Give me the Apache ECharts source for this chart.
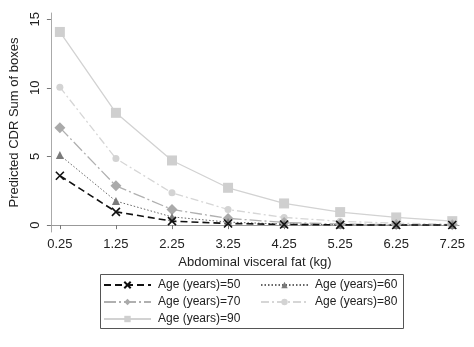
<!DOCTYPE html>
<html>
<head>
    <meta charset="utf-8">
    <title>CDR by visceral fat</title>
    <script src="https://cdn.jsdelivr.net/npm/echarts@6/dist/echarts.min.js"></script>
</head>
<body style="margin:0;background:#fff">

<div id="chart" style="width:474px;height:347px"></div>
<script type="text/javascript">
    // abdominal visceral fat (kg)
    var fatKg = [0.25, 1.25, 2.25, 3.25, 4.25, 5.25, 6.25, 7.25];
    var yTicks = [0, 5, 10, 15];
    var age50 = [3.6, 0.97, 0.29, 0.12, 0.05, 0.02, 0.01, 0.01];
    var age60 = [5.1, 1.75, 0.6, 0.22, 0.08, 0.03, 0.01, 0.01];
    var age70 = [7.1, 2.86, 1.14, 0.49, 0.2, 0.08, 0.04, 0.02];
    var age80 = [10.05, 4.85, 2.35, 1.14, 0.56, 0.28, 0.14, 0.07];
    var age90 = [14.07, 8.18, 4.71, 2.72, 1.58, 0.95, 0.56, 0.29];

    var chart = echarts.init(document.getElementById('chart'));
    var font = 'Liberation Sans, Arial, sans-serif';

    function pairs(vals) {
        return fatKg.map(function (x, i) { return [x, vals[i]]; });
    }

    function mkSeries(name, vals, color, lineColor, dash, width, symbol, size, extra) {
        var s = {
            name: name,
            type: 'line',
            data: pairs(vals),
            symbol: symbol,
            symbolSize: size,
            showAllSymbol: true,
            lineStyle: { color: lineColor, width: width, type: dash },
            itemStyle: { color: color },
            emphasis: { disabled: true },
            animation: false
        };
        if (extra) s.itemStyle = extra;
        return s;
    }

    var names = ['Age (years)=50', 'Age (years)=60', 'Age (years)=70', 'Age (years)=80', 'Age (years)=90'];

    // one legend per entry so the two columns line up like the original
    var legendPos = [[103, 279], [260, 279], [103, 296], [260, 296], [103, 313]];
    var legends = names.map(function (n, i) {
        return {
            data: [n],
            left: legendPos[i][0],
            top: legendPos[i][1],
            padding: 0,
            itemWidth: 47,
            itemHeight: 8,
            itemGap: 0,
            textStyle: { fontFamily: font, fontSize: 12, color: '#222', padding: [0, 0, 0, 2] },
            selectedMode: false
        };
    });

    var option = {
        backgroundColor: '#fff',
        textStyle: { fontFamily: font },
        grid: { left: 43, right: 15, top: 13, bottom: 115 },
        legend: legends,
        xAxis: {
            type: 'value',
            min: 0.09,
            max: 7.37,
            name: 'Abdominal visceral fat (kg)',
            nameLocation: 'middle',
            nameGap: 24,
            nameTextStyle: { fontSize: 13, color: '#222', fontFamily: font },
            axisLine: { lineStyle: { color: '#999', width: 1 } },
            axisTick: { customValues: fatKg, length: 4, lineStyle: { color: '#777' } },
            axisLabel: {
                customValues: fatKg,
                fontSize: 13, color: '#222', margin: 6,
                formatter: function (v) { return v.toFixed(2); }
            },
            splitLine: { show: false }
        },
        yAxis: {
            type: 'value',
            min: -0.5,
            max: 15.45,
            name: 'Predicted CDR Sum of boxes',
            nameLocation: 'middle',
            nameGap: 20,
            nameTextStyle: { fontSize: 13, color: '#222', fontFamily: font },
            axisLine: { show: true, lineStyle: { color: '#aaa', width: 1 } },
            axisTick: { show: true, customValues: yTicks, length: 4, lineStyle: { color: '#777' } },
            axisLabel: { customValues: yTicks, fontSize: 13, color: '#222', rotate: 90, margin: 9 },
            splitLine: { show: false }
        },
        graphic: [{
            type: 'rect',
            shape: { x: 100.5, y: 274.5, width: 303, height: 54 },
            style: { fill: 'none', stroke: '#555', lineWidth: 1 },
            z: 0
        }],
        series: [
            mkSeries(names[4], age90, '#cfcfcf', '#d2d2d2', 'solid', 1.3, 'rect', 10),
            mkSeries(names[3], age80, '#d3d3d3', '#d6d6d6', [8, 3, 2, 3], 1.3, 'circle', 7),
            mkSeries(names[2], age70, '#aaaaaa', '#b0b0b0', [12, 3, 2, 3], 1.3, 'diamond', 11),
            mkSeries(names[1], age60, '#7a7a7a', '#666', [1.5, 2], 1, 'triangle', 8),
            mkSeries(names[0], age50, '#111', '#111', [7, 4], 1.6,
                'path://M0,0 L10,10 M10,0 L0,10', 8,
                { color: 'none', borderColor: '#111', borderWidth: 1.6 })
        ]
    };

    chart.setOption(option);
</script>
</body>
</html>
